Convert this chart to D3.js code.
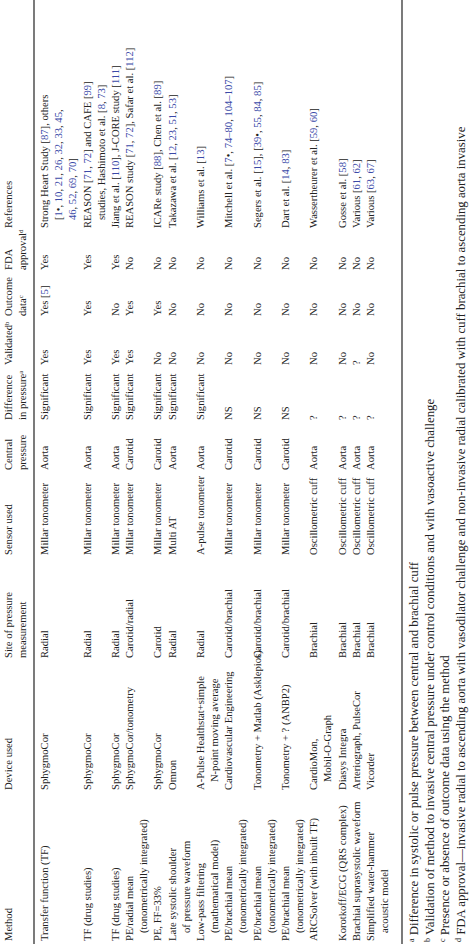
<!DOCTYPE html>
<html>
<head>
<meta charset="utf-8">
<script src="https://cdn.jsdelivr.net/npm/d3@7"></script>
<style>
  body { margin: 0; background: #fff; overflow: hidden; }
  svg text { font-family: "Liberation Serif", "DejaVu Serif", serif; font-size: 10.6px; fill: #222; }
  svg text.foot { font-size: 12.8px; }
</style>
</head>
<body>
<div id="chart"></div>
<script>
// Columnas de la tabla (encabezados, con \n para salto de línea)
const headers = ['Method', 'Device used', 'Site of pressure\nmeasurement', 'Sensor used', 'Central\npressure',
  'Difference\nin pressure^a', 'Validated^b', 'Outcome\ndata^c', 'FDA\napproval^d', 'References'];

const methods = ['Transfer function (TF)', 'TF (drug studies)', 'TF (drug studies)',
  'PE/radial mean\n   (tonometrically integrated)', 'PE, FF=33%', 'Late systolic shoulder\n   of pressure waveform',
  'Low-pass filtering\n   (mathematical model)', 'PE/brachial mean\n   (tonometrically integrated)',
  'PE/brachial mean\n   (tonometrically integrated)', 'PE/brachial mean\n   (tonometrically integrated)',
  'ARCSolver (with inbuilt TF)', 'Korotkoff/ECG (QRS complex)', 'Brachial suprasystolic waveform',
  'Simplified water-hammer\n   acoustic model'];
const devices = ['SphygmoCor', 'SphygmoCor', 'SphygmoCor', 'SphygmoCor/tonometry', 'SphygmoCor', 'Omron',
  'A-Pulse Healthstat+simple\n   N-point moving average', 'Cardiovascular Engineering',
  'Tonometry + Matlab (Asklepios)', 'Tonometry + ? (ANBP2)', 'CardioMon,\n   Mobil-O-Graph',
  'Diasys Integra', 'Arteriograph, PulseCor', 'Vicorder'];
const sites = ['Radial', 'Radial', 'Radial', 'Carotid/radial', 'Carotid', 'Radial', 'Radial', 'Carotid/brachial',
  'Carotid/brachial', 'Carotid/brachial', 'Brachial', 'Brachial', 'Brachial', 'Brachial'];
const sensors = ['Millar tonometer', 'Millar tonometer', 'Millar tonometer', 'Millar tonometer', 'Millar tonometer',
  'Multi AT', 'A-pulse tonometer', 'Millar tonometer', 'Millar tonometer', 'Millar tonometer',
  'Oscillometric cuff', 'Oscillometric cuff', 'Oscillometric cuff', 'Oscillometric cuff'];
const centrals = ['Aorta', 'Aorta', 'Aorta', 'Carotid', 'Carotid', 'Aorta', 'Aorta', 'Carotid', 'Carotid', 'Carotid',
  'Aorta', 'Aorta', 'Aorta', 'Aorta'];
const diffs = ['Significant', 'Significant', 'Significant', 'Significant', 'Significant', 'Significant', 'Significant',
  'NS', 'NS', 'NS', '?', '?', '?', '?'];
const validated = ['Yes', 'Yes', 'Yes', 'Yes', 'No', 'No', 'No', 'No', 'No', 'No', 'No', 'No', '?', 'No'];
const outcomes = ['Yes [5]', 'Yes', 'No', 'Yes', 'Yes', 'No', 'No', 'No', 'No', 'No', 'No', 'No', 'No', 'No'];
const fda = ['Yes', 'Yes', 'Yes', 'No', 'No', 'No', 'No', 'No', 'No', 'No', 'No', 'No', 'No', 'No'];
const refs = ['Strong Heart Study [87], others\n   [1•, 10, 21, 26, 32, 33, 45,\n   46, 52, 69, 70]',
  'REASON [71, 72] and CAFE [99]\n   studies, Hashimoto et al. [8, 73]', 'Jiang et al. [110], J-CORE study [111]',
  'REASON study [71, 72], Safar et al. [112]', 'ICARe study [88], Chen et al. [89]',
  'Takazawa et al. [12, 23, 51, 53]', 'Williams et al. [13]', 'Mitchell et al. [7•, 74–80, 104–107]',
  'Segers et al. [15], [39•, 55, 84, 85]', 'Dart et al. [14, 83]', 'Wassertheurer et al. [59, 60]',
  'Gosse et al. [58]', 'Various [61, 62]', 'Various [63, 67]'];
const footnotes = ['^a Difference in systolic or pulse pressure between central and brachial cuff',
  '^b Validation of method to invasive central pressure under control conditions and with vasoactive challenge',
  '^c Presence or absence of outcome data using the method',
  '^d FDA approval—invasive radial to ascending aorta with vasodilator challenge and non-invasive radial calibrated with cuff brachial to ascending aorta invasive'];

const columns = [methods, devices, sites, sensors, centrals, diffs, validated, outcomes, fda, refs];
const colStart = [3, 154, 286, 389, 474, 524, 579, 628, 674, 716];

const W = 944, H = 474;
const svg = d3.select('#chart').append('svg').attr('width', H).attr('height', W);
// La tabla está girada 90° en la imagen original
const g = svg.append('g').attr('transform', `translate(0,${W}) rotate(-90)`);

// Posición de cada fila según el número de líneas acumuladas
const nLines = methods.map((_, i) => d3.max(columns, c => c[i].split('\n').length));
const lineStart = [];
let acc = 0;
nLines.forEach(n => { lineStart.push(acc); acc += n; });
const yLine = d3.scaleLinear().domain([0, acc - 1]).range([48, 388]);
const step = yLine(1) - yLine(0);

function drawText(sel, str, x, y, blueRefs, cls) {
  const t = sel.append('text').attr('x', x).attr('y', y).attr('xml:space', 'preserve');
  if (cls) t.attr('class', cls);
  str.split('\n').forEach((line, k) => {
    const ts = t.append('tspan').attr('x', x).attr('y', y + k * step);
    // superíndices y números de referencia en azul
    line.split(/(\^[a-d])/).forEach(p => {
      if (!p) return;
      if (p[0] === '^') {
        ts.append('tspan').attr('baseline-shift', 'super').attr('font-size', '0.62em').text(p.slice(1));
      } else if (blueRefs) {
        p.split(/([\[\],•]|\s+)/).forEach(q => {
          if (!q) return;
          const isNum = /^[0-9–]+$/.test(q);
          ts.append('tspan').attr('fill', isNum ? '#3b4aa8' : '#222').text(q);
        });
      } else ts.append('tspan').text(p);
    });
  });
}

// Encabezados
headers.forEach((h, j) => drawText(g, h, colStart[j], 12, false));

// Reglas horizontales
g.append('line').attr('x1', 0).attr('x2', W).attr('y1', 34).attr('y2', 34).attr('stroke', '#333').attr('stroke-width', 1.3);
g.append('line').attr('x1', 0).attr('x2', W).attr('y1', 402).attr('y2', 402).attr('stroke', '#333').attr('stroke-width', 1.3);

// Celdas
columns.forEach((col, j) => {
  col.forEach((val, i) => drawText(g, val, colStart[j], yLine(lineStart[i]), j === 9 || j === 7));
});

// Notas al pie
footnotes.forEach((f, k) => drawText(g, f, 2, 418 + k * 15.5, false, 'foot'));
</script>
</body>
</html>
